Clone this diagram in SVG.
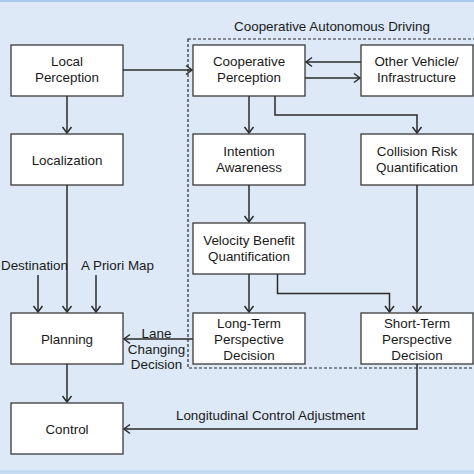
<svg xmlns="http://www.w3.org/2000/svg" width="474" height="474" viewBox="0 0 474 474">
<defs>
<style>
.box{fill:#ffffff;stroke:#3a3a3a;stroke-width:1.3}
.t{font-family:"Liberation Sans",Arial,sans-serif;font-size:13.4px;fill:#1a1a1a;text-anchor:middle}
.c{fill:none;stroke:#2b2b2b;stroke-width:1.5}
.ca{fill:none;stroke:#2b2b2b;stroke-width:1.5;marker-end:url(#arr)}
</style>
<marker id="arr" markerUnits="userSpaceOnUse" markerWidth="12" markerHeight="12" viewBox="-7 -6 8 12" refX="0" refY="0" orient="auto">
<path d="M-6,-4.5 L0,0 L-6,4.5" fill="none" stroke="#2b2b2b" stroke-width="1.5"/>
</marker>
</defs>
<rect x="0" y="0" width="474" height="474" fill="#dde9f7"/>
<rect x="0" y="0" width="474" height="2" fill="#a9c8ea"/>
<rect x="0" y="471" width="474" height="3" fill="#c6dcf3"/>
<line x1="0" y1="471" x2="474" y2="471" stroke="#b4cfec" stroke-width="1"/>

<g id="cad-group">
<rect x="188" y="39" width="300" height="329" fill="none" stroke="#2b2b2b" stroke-width="1.2" stroke-dasharray="3,2"/>
<text class="t" x="332" y="31">Cooperative Autonomous Driving</text>
</g>

<g id="connectors">
<line class="ca" x1="123" y1="70" x2="192" y2="70"/>
<line class="ca" x1="67" y1="96" x2="67" y2="133"/>
<line class="ca" x1="67" y1="185" x2="67" y2="312"/>
<line class="ca" x1="38" y1="275" x2="38" y2="312"/>
<line class="ca" x1="96" y1="275" x2="96" y2="312"/>
<line class="ca" x1="67" y1="364" x2="67" y2="402"/>
<line class="ca" x1="193" y1="339" x2="124" y2="339"/>
<polyline class="ca" points="417,364 417,429 124,429"/>
<line class="ca" x1="361" y1="62" x2="306" y2="62"/>
<line class="ca" x1="305" y1="78" x2="360" y2="78"/>
<line class="ca" x1="249" y1="96" x2="249" y2="133"/>
<polyline class="ca" points="275,96 275,115 417,115 417,133"/>
<line class="ca" x1="249" y1="185" x2="249" y2="222"/>
<line class="ca" x1="249" y1="274" x2="249" y2="312"/>
<polyline class="ca" points="277.5,274 277.5,293.5 389.5,293.5 389.5,312"/>
<line class="ca" x1="417" y1="185" x2="417" y2="312"/>
<text class="t" x="34.5" y="270">Destination</text>
<text class="t" x="117.5" y="270">A Priori Map</text>
<text class="t" x="156.5" y="338">Lane</text>
<text class="t" x="156.5" y="353.5">Changing</text>
<text class="t" x="156.5" y="369">Decision</text>
<text class="t" x="270.5" y="420">Longitudinal Control Adjustment</text>
</g>

<g id="local-perception">
<rect class="box" x="11" y="45" width="112" height="51"/>
<text class="t" x="67" y="66">Local</text>
<text class="t" x="67" y="82">Perception</text>
</g>
<g id="localization">
<rect class="box" x="11" y="134" width="112" height="51"/>
<text class="t" x="67" y="165">Localization</text>
</g>
<g id="planning">
<rect class="box" x="11" y="313" width="112" height="51"/>
<text class="t" x="67" y="344">Planning</text>
</g>
<g id="control">
<rect class="box" x="11" y="403" width="112" height="51"/>
<text class="t" x="67" y="434">Control</text>
</g>
<g id="cooperative-perception">
<rect class="box" x="193" y="45" width="112" height="51"/>
<text class="t" x="249" y="66">Cooperative</text>
<text class="t" x="249" y="82">Perception</text>
</g>
<g id="other-vehicle">
<rect class="box" x="361" y="45" width="112" height="51"/>
<text class="t" x="416.5" y="66">Other Vehicle/</text>
<text class="t" x="416.5" y="82">Infrastructure</text>
</g>
<g id="intention-awareness">
<rect class="box" x="193" y="134" width="112" height="51"/>
<text class="t" x="249" y="156">Intention</text>
<text class="t" x="249" y="172">Awareness</text>
</g>
<g id="collision-risk">
<rect class="box" x="361" y="134" width="112" height="51"/>
<text class="t" x="417" y="156">Collision Risk</text>
<text class="t" x="417" y="172">Quantification</text>
</g>
<g id="velocity-benefit">
<rect class="box" x="193" y="223" width="112" height="51"/>
<text class="t" x="249" y="245">Velocity Benefit</text>
<text class="t" x="249" y="261">Quantification</text>
</g>
<g id="long-term">
<rect class="box" x="193" y="313" width="112" height="51"/>
<text class="t" x="249" y="327.5">Long-Term</text>
<text class="t" x="249" y="343.5">Perspective</text>
<text class="t" x="249" y="359.5">Decision</text>
</g>
<g id="short-term">
<rect class="box" x="361" y="313" width="112" height="51"/>
<text class="t" x="417" y="327.5">Short-Term</text>
<text class="t" x="417" y="343.5">Perspective</text>
<text class="t" x="417" y="359.5">Decision</text>
</g>
</svg>
